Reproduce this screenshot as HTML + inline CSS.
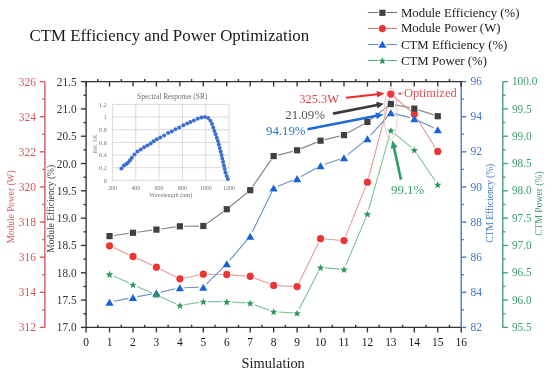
<!DOCTYPE html>
<html><head><meta charset="utf-8"><title>CTM Efficiency and Power Optimization</title>
<style>html,body{margin:0;padding:0;background:#fff;width:550px;height:373px;overflow:hidden}svg{display:block;filter:blur(0.3px)}</style></head>
<body><svg width="550" height="373" viewBox="0 0 550 373" font-family="'Liberation Serif', 'Times New Roman', serif">

<rect width="550" height="373" fill="#fff"/>
<text x="29.40" y="41.30" font-size="17.4" fill="#1a1a1a" text-anchor="start" textLength="279.8" lengthAdjust="spacingAndGlyphs">CTM Efficiency and Power Optimization</text>
<line x1="367.80" y1="12.50" x2="378.30" y2="12.50" stroke="#747474" stroke-width="1.1" />
<line x1="386.50" y1="12.50" x2="397.00" y2="12.50" stroke="#747474" stroke-width="1.1" />
<rect x="379.30" y="9.70" width="6.2" height="6.2" fill="#404040"/>
<text transform="translate(401.00,17.10) scale(1,1.03)" font-size="12.8" fill="#1a1a1a" text-anchor="start" >Module Efficiency (%)</text>
<line x1="367.80" y1="28.50" x2="378.30" y2="28.50" stroke="#e27272" stroke-width="1.1" />
<line x1="386.50" y1="28.50" x2="397.00" y2="28.50" stroke="#e27272" stroke-width="1.1" />
<circle cx="382.40" cy="28.60" r="3.4" fill="#f03434" stroke="#d82626" stroke-width="0.5"/>
<text transform="translate(401.00,32.40) scale(1,1.03)" font-size="12.8" fill="#1a1a1a" text-anchor="start" >Module Power (W)</text>
<line x1="367.80" y1="44.50" x2="378.30" y2="44.50" stroke="#6490d2" stroke-width="1.1" />
<line x1="386.50" y1="44.50" x2="397.00" y2="44.50" stroke="#6490d2" stroke-width="1.1" />
<polygon points="382.40,40.75 386.50,47.85 378.30,47.85" fill="#1862d8"/>
<text transform="translate(401.00,48.90) scale(1,1.03)" font-size="12.8" fill="#1a1a1a" text-anchor="start" >CTM Efficiency (%)</text>
<line x1="367.80" y1="60.50" x2="378.30" y2="60.50" stroke="#5eae84" stroke-width="1.1" />
<line x1="386.50" y1="60.50" x2="397.00" y2="60.50" stroke="#5eae84" stroke-width="1.1" />
<polygon points="382.40,57.00 383.39,59.64 386.20,59.76 384.00,61.52 384.75,64.24 382.40,62.68 380.05,64.24 380.80,61.52 378.60,59.76 381.41,59.64" fill="#2c9a5c"/>
<text transform="translate(401.00,64.90) scale(1,1.03)" font-size="12.8" fill="#1a1a1a" text-anchor="start" >CTM Power (%)</text>
<line x1="112.40" y1="180.30" x2="229.10" y2="180.30" stroke="#d6d6d6" stroke-width="0.9" />
<text transform="translate(106.80,182.50) scale(1,1.12)" font-size="6.2" fill="#737373" text-anchor="end" >0</text>
<line x1="112.40" y1="167.65" x2="229.10" y2="167.65" stroke="#d6d6d6" stroke-width="0.9" />
<text transform="translate(106.80,169.85) scale(1,1.12)" font-size="6.2" fill="#737373" text-anchor="end" >0.2</text>
<line x1="112.40" y1="155.00" x2="229.10" y2="155.00" stroke="#d6d6d6" stroke-width="0.9" />
<text transform="translate(106.80,157.20) scale(1,1.12)" font-size="6.2" fill="#737373" text-anchor="end" >0.4</text>
<line x1="112.40" y1="142.35" x2="229.10" y2="142.35" stroke="#d6d6d6" stroke-width="0.9" />
<text transform="translate(106.80,144.55) scale(1,1.12)" font-size="6.2" fill="#737373" text-anchor="end" >0.6</text>
<line x1="112.40" y1="129.70" x2="229.10" y2="129.70" stroke="#d6d6d6" stroke-width="0.9" />
<text transform="translate(106.80,131.90) scale(1,1.12)" font-size="6.2" fill="#737373" text-anchor="end" >0.8</text>
<line x1="112.40" y1="117.05" x2="229.10" y2="117.05" stroke="#d6d6d6" stroke-width="0.9" />
<text transform="translate(106.80,119.25) scale(1,1.12)" font-size="6.2" fill="#737373" text-anchor="end" >1</text>
<line x1="112.40" y1="104.40" x2="229.10" y2="104.40" stroke="#d6d6d6" stroke-width="0.9" />
<text transform="translate(106.80,106.60) scale(1,1.12)" font-size="6.2" fill="#737373" text-anchor="end" >1.2</text>
<line x1="112.40" y1="180.30" x2="112.40" y2="104.40" stroke="#d6d6d6" stroke-width="0.9" />
<text transform="translate(112.40,189.80) scale(1,1.12)" font-size="6.0" fill="#737373" text-anchor="middle" >200</text>
<line x1="135.74" y1="180.30" x2="135.74" y2="104.40" stroke="#d6d6d6" stroke-width="0.9" />
<text transform="translate(135.74,189.80) scale(1,1.12)" font-size="6.0" fill="#737373" text-anchor="middle" >400</text>
<line x1="159.08" y1="180.30" x2="159.08" y2="104.40" stroke="#d6d6d6" stroke-width="0.9" />
<text transform="translate(159.08,189.80) scale(1,1.12)" font-size="6.0" fill="#737373" text-anchor="middle" >600</text>
<line x1="182.42" y1="180.30" x2="182.42" y2="104.40" stroke="#d6d6d6" stroke-width="0.9" />
<text transform="translate(182.42,189.80) scale(1,1.12)" font-size="6.0" fill="#737373" text-anchor="middle" >800</text>
<line x1="205.76" y1="180.30" x2="205.76" y2="104.40" stroke="#d6d6d6" stroke-width="0.9" />
<text transform="translate(205.76,189.80) scale(1,1.12)" font-size="6.0" fill="#737373" text-anchor="middle" >1000</text>
<line x1="229.10" y1="180.30" x2="229.10" y2="104.40" stroke="#d6d6d6" stroke-width="0.9" />
<text transform="translate(229.10,189.80) scale(1,1.12)" font-size="6.0" fill="#737373" text-anchor="middle" >1200</text>
<text transform="translate(172.20,98.60) scale(1,1.12)" font-size="7.4" fill="#6e6e6e" text-anchor="middle" >Spectral Response (SR)</text>
<text transform="translate(170.70,196.90) scale(1,1.12)" font-size="6.2" fill="#737373" text-anchor="middle" >Wavelength (nm)</text>
<text x="0.00" y="0.00" font-size="6.0" fill="#808080" text-anchor="middle" transform="translate(97.0,144.2) rotate(-90)">Rel. SR</text>
<circle cx="121.40" cy="168.40" r="2.0" fill="#3a6fcf" />
<circle cx="123.90" cy="165.50" r="2.0" fill="#3a6fcf" />
<circle cx="126.30" cy="164.10" r="2.0" fill="#3a6fcf" />
<circle cx="128.10" cy="162.50" r="2.0" fill="#3a6fcf" />
<circle cx="130.00" cy="160.20" r="2.0" fill="#3a6fcf" />
<circle cx="131.90" cy="157.70" r="2.0" fill="#3a6fcf" />
<circle cx="134.50" cy="154.60" r="2.0" fill="#3a6fcf" />
<circle cx="137.50" cy="151.50" r="2.0" fill="#3a6fcf" />
<circle cx="140.80" cy="149.40" r="2.0" fill="#3a6fcf" />
<circle cx="144.10" cy="147.30" r="2.0" fill="#3a6fcf" />
<circle cx="147.40" cy="145.40" r="2.0" fill="#3a6fcf" />
<circle cx="150.70" cy="143.50" r="2.0" fill="#3a6fcf" />
<circle cx="153.60" cy="141.20" r="2.0" fill="#3a6fcf" />
<circle cx="156.80" cy="139.30" r="2.0" fill="#3a6fcf" />
<circle cx="160.30" cy="137.40" r="2.0" fill="#3a6fcf" />
<circle cx="164.10" cy="135.40" r="2.0" fill="#3a6fcf" />
<circle cx="168.10" cy="133.00" r="2.0" fill="#3a6fcf" />
<circle cx="171.80" cy="131.40" r="2.0" fill="#3a6fcf" />
<circle cx="175.50" cy="129.20" r="2.0" fill="#3a6fcf" />
<circle cx="179.30" cy="127.40" r="2.0" fill="#3a6fcf" />
<circle cx="183.30" cy="125.20" r="2.0" fill="#3a6fcf" />
<circle cx="187.10" cy="123.60" r="2.0" fill="#3a6fcf" />
<circle cx="190.40" cy="122.10" r="2.0" fill="#3a6fcf" />
<circle cx="193.90" cy="120.40" r="2.0" fill="#3a6fcf" />
<circle cx="197.70" cy="118.80" r="2.0" fill="#3a6fcf" />
<circle cx="201.40" cy="117.60" r="2.0" fill="#3a6fcf" />
<circle cx="204.90" cy="116.90" r="2.0" fill="#3a6fcf" />
<circle cx="208.17" cy="118.07" r="2.0" fill="#3a6fcf" />
<circle cx="210.41" cy="120.87" r="2.0" fill="#3a6fcf" />
<circle cx="212.05" cy="124.06" r="2.0" fill="#3a6fcf" />
<circle cx="213.20" cy="127.48" r="2.0" fill="#3a6fcf" />
<circle cx="214.38" cy="130.88" r="2.0" fill="#3a6fcf" />
<circle cx="215.61" cy="134.26" r="2.0" fill="#3a6fcf" />
<circle cx="216.78" cy="137.67" r="2.0" fill="#3a6fcf" />
<circle cx="217.85" cy="141.10" r="2.0" fill="#3a6fcf" />
<circle cx="218.82" cy="144.57" r="2.0" fill="#3a6fcf" />
<circle cx="219.72" cy="148.05" r="2.0" fill="#3a6fcf" />
<circle cx="220.67" cy="151.52" r="2.0" fill="#3a6fcf" />
<circle cx="221.53" cy="155.02" r="2.0" fill="#3a6fcf" />
<circle cx="222.32" cy="158.53" r="2.0" fill="#3a6fcf" />
<circle cx="223.13" cy="162.04" r="2.0" fill="#3a6fcf" />
<circle cx="223.91" cy="165.55" r="2.0" fill="#3a6fcf" />
<circle cx="224.70" cy="169.07" r="2.0" fill="#3a6fcf" />
<circle cx="225.52" cy="172.57" r="2.0" fill="#3a6fcf" />
<circle cx="226.63" cy="176.00" r="2.0" fill="#3a6fcf" />
<circle cx="227.80" cy="179.00" r="2.0" fill="#3a6fcf" />
<line x1="86.10" y1="81.60" x2="461.20" y2="81.60" stroke="#333333" stroke-width="1.35" />
<line x1="86.10" y1="327.40" x2="461.20" y2="327.40" stroke="#333333" stroke-width="1.35" />
<line x1="86.10" y1="81.10" x2="86.10" y2="327.90" stroke="#333333" stroke-width="1.35" />
<line x1="86.10" y1="327.40" x2="86.10" y2="332.40" stroke="#333333" stroke-width="1.35" />
<line x1="86.10" y1="81.60" x2="86.10" y2="86.60" stroke="#333333" stroke-width="1.35" />
<text transform="translate(86.10,345.80) scale(1,1.12)" font-size="11.5" fill="#1a1a1a" text-anchor="middle" >0</text>
<line x1="97.82" y1="327.40" x2="97.82" y2="324.80" stroke="#333333" stroke-width="1.35" />
<line x1="97.82" y1="81.60" x2="97.82" y2="79.00" stroke="#333333" stroke-width="1.35" />
<line x1="109.54" y1="327.40" x2="109.54" y2="332.40" stroke="#333333" stroke-width="1.35" />
<line x1="109.54" y1="81.60" x2="109.54" y2="86.60" stroke="#333333" stroke-width="1.35" />
<text transform="translate(109.54,345.80) scale(1,1.12)" font-size="11.5" fill="#1a1a1a" text-anchor="middle" >1</text>
<line x1="121.27" y1="327.40" x2="121.27" y2="324.80" stroke="#333333" stroke-width="1.35" />
<line x1="121.27" y1="81.60" x2="121.27" y2="79.00" stroke="#333333" stroke-width="1.35" />
<line x1="132.99" y1="327.40" x2="132.99" y2="332.40" stroke="#333333" stroke-width="1.35" />
<line x1="132.99" y1="81.60" x2="132.99" y2="86.60" stroke="#333333" stroke-width="1.35" />
<text transform="translate(132.99,345.80) scale(1,1.12)" font-size="11.5" fill="#1a1a1a" text-anchor="middle" >2</text>
<line x1="144.71" y1="327.40" x2="144.71" y2="324.80" stroke="#333333" stroke-width="1.35" />
<line x1="144.71" y1="81.60" x2="144.71" y2="79.00" stroke="#333333" stroke-width="1.35" />
<line x1="156.43" y1="327.40" x2="156.43" y2="332.40" stroke="#333333" stroke-width="1.35" />
<line x1="156.43" y1="81.60" x2="156.43" y2="86.60" stroke="#333333" stroke-width="1.35" />
<text transform="translate(156.43,345.80) scale(1,1.12)" font-size="11.5" fill="#1a1a1a" text-anchor="middle" >3</text>
<line x1="168.15" y1="327.40" x2="168.15" y2="324.80" stroke="#333333" stroke-width="1.35" />
<line x1="168.15" y1="81.60" x2="168.15" y2="79.00" stroke="#333333" stroke-width="1.35" />
<line x1="179.88" y1="327.40" x2="179.88" y2="332.40" stroke="#333333" stroke-width="1.35" />
<line x1="179.88" y1="81.60" x2="179.88" y2="86.60" stroke="#333333" stroke-width="1.35" />
<text transform="translate(179.88,345.80) scale(1,1.12)" font-size="11.5" fill="#1a1a1a" text-anchor="middle" >4</text>
<line x1="191.60" y1="327.40" x2="191.60" y2="324.80" stroke="#333333" stroke-width="1.35" />
<line x1="191.60" y1="81.60" x2="191.60" y2="79.00" stroke="#333333" stroke-width="1.35" />
<line x1="203.32" y1="327.40" x2="203.32" y2="332.40" stroke="#333333" stroke-width="1.35" />
<line x1="203.32" y1="81.60" x2="203.32" y2="86.60" stroke="#333333" stroke-width="1.35" />
<text transform="translate(203.32,345.80) scale(1,1.12)" font-size="11.5" fill="#1a1a1a" text-anchor="middle" >5</text>
<line x1="215.04" y1="327.40" x2="215.04" y2="324.80" stroke="#333333" stroke-width="1.35" />
<line x1="215.04" y1="81.60" x2="215.04" y2="79.00" stroke="#333333" stroke-width="1.35" />
<line x1="226.76" y1="327.40" x2="226.76" y2="332.40" stroke="#333333" stroke-width="1.35" />
<line x1="226.76" y1="81.60" x2="226.76" y2="86.60" stroke="#333333" stroke-width="1.35" />
<text transform="translate(226.76,345.80) scale(1,1.12)" font-size="11.5" fill="#1a1a1a" text-anchor="middle" >6</text>
<line x1="238.48" y1="327.40" x2="238.48" y2="324.80" stroke="#333333" stroke-width="1.35" />
<line x1="238.48" y1="81.60" x2="238.48" y2="79.00" stroke="#333333" stroke-width="1.35" />
<line x1="250.21" y1="327.40" x2="250.21" y2="332.40" stroke="#333333" stroke-width="1.35" />
<line x1="250.21" y1="81.60" x2="250.21" y2="86.60" stroke="#333333" stroke-width="1.35" />
<text transform="translate(250.21,345.80) scale(1,1.12)" font-size="11.5" fill="#1a1a1a" text-anchor="middle" >7</text>
<line x1="261.93" y1="327.40" x2="261.93" y2="324.80" stroke="#333333" stroke-width="1.35" />
<line x1="261.93" y1="81.60" x2="261.93" y2="79.00" stroke="#333333" stroke-width="1.35" />
<line x1="273.65" y1="327.40" x2="273.65" y2="332.40" stroke="#333333" stroke-width="1.35" />
<line x1="273.65" y1="81.60" x2="273.65" y2="86.60" stroke="#333333" stroke-width="1.35" />
<text transform="translate(273.65,345.80) scale(1,1.12)" font-size="11.5" fill="#1a1a1a" text-anchor="middle" >8</text>
<line x1="285.37" y1="327.40" x2="285.37" y2="324.80" stroke="#333333" stroke-width="1.35" />
<line x1="285.37" y1="81.60" x2="285.37" y2="79.00" stroke="#333333" stroke-width="1.35" />
<line x1="297.09" y1="327.40" x2="297.09" y2="332.40" stroke="#333333" stroke-width="1.35" />
<line x1="297.09" y1="81.60" x2="297.09" y2="86.60" stroke="#333333" stroke-width="1.35" />
<text transform="translate(297.09,345.80) scale(1,1.12)" font-size="11.5" fill="#1a1a1a" text-anchor="middle" >9</text>
<line x1="308.82" y1="327.40" x2="308.82" y2="324.80" stroke="#333333" stroke-width="1.35" />
<line x1="308.82" y1="81.60" x2="308.82" y2="79.00" stroke="#333333" stroke-width="1.35" />
<line x1="320.54" y1="327.40" x2="320.54" y2="332.40" stroke="#333333" stroke-width="1.35" />
<line x1="320.54" y1="81.60" x2="320.54" y2="86.60" stroke="#333333" stroke-width="1.35" />
<text transform="translate(320.54,345.80) scale(1,1.12)" font-size="11.5" fill="#1a1a1a" text-anchor="middle" >10</text>
<line x1="332.26" y1="327.40" x2="332.26" y2="324.80" stroke="#333333" stroke-width="1.35" />
<line x1="332.26" y1="81.60" x2="332.26" y2="79.00" stroke="#333333" stroke-width="1.35" />
<line x1="343.98" y1="327.40" x2="343.98" y2="332.40" stroke="#333333" stroke-width="1.35" />
<line x1="343.98" y1="81.60" x2="343.98" y2="86.60" stroke="#333333" stroke-width="1.35" />
<text transform="translate(343.98,345.80) scale(1,1.12)" font-size="11.5" fill="#1a1a1a" text-anchor="middle" >11</text>
<line x1="355.70" y1="327.40" x2="355.70" y2="324.80" stroke="#333333" stroke-width="1.35" />
<line x1="355.70" y1="81.60" x2="355.70" y2="79.00" stroke="#333333" stroke-width="1.35" />
<line x1="367.43" y1="327.40" x2="367.43" y2="332.40" stroke="#333333" stroke-width="1.35" />
<line x1="367.43" y1="81.60" x2="367.43" y2="86.60" stroke="#333333" stroke-width="1.35" />
<text transform="translate(367.43,345.80) scale(1,1.12)" font-size="11.5" fill="#1a1a1a" text-anchor="middle" >12</text>
<line x1="379.15" y1="327.40" x2="379.15" y2="324.80" stroke="#333333" stroke-width="1.35" />
<line x1="379.15" y1="81.60" x2="379.15" y2="79.00" stroke="#333333" stroke-width="1.35" />
<line x1="390.87" y1="327.40" x2="390.87" y2="332.40" stroke="#333333" stroke-width="1.35" />
<line x1="390.87" y1="81.60" x2="390.87" y2="86.60" stroke="#333333" stroke-width="1.35" />
<text transform="translate(390.87,345.80) scale(1,1.12)" font-size="11.5" fill="#1a1a1a" text-anchor="middle" >13</text>
<line x1="402.59" y1="327.40" x2="402.59" y2="324.80" stroke="#333333" stroke-width="1.35" />
<line x1="402.59" y1="81.60" x2="402.59" y2="79.00" stroke="#333333" stroke-width="1.35" />
<line x1="414.31" y1="327.40" x2="414.31" y2="332.40" stroke="#333333" stroke-width="1.35" />
<line x1="414.31" y1="81.60" x2="414.31" y2="86.60" stroke="#333333" stroke-width="1.35" />
<text transform="translate(414.31,345.80) scale(1,1.12)" font-size="11.5" fill="#1a1a1a" text-anchor="middle" >14</text>
<line x1="426.03" y1="327.40" x2="426.03" y2="324.80" stroke="#333333" stroke-width="1.35" />
<line x1="426.03" y1="81.60" x2="426.03" y2="79.00" stroke="#333333" stroke-width="1.35" />
<line x1="437.76" y1="327.40" x2="437.76" y2="332.40" stroke="#333333" stroke-width="1.35" />
<line x1="437.76" y1="81.60" x2="437.76" y2="86.60" stroke="#333333" stroke-width="1.35" />
<text transform="translate(437.76,345.80) scale(1,1.12)" font-size="11.5" fill="#1a1a1a" text-anchor="middle" >15</text>
<line x1="449.48" y1="327.40" x2="449.48" y2="324.80" stroke="#333333" stroke-width="1.35" />
<line x1="449.48" y1="81.60" x2="449.48" y2="79.00" stroke="#333333" stroke-width="1.35" />
<line x1="461.20" y1="327.40" x2="461.20" y2="332.40" stroke="#333333" stroke-width="1.35" />
<line x1="461.20" y1="81.60" x2="461.20" y2="86.60" stroke="#333333" stroke-width="1.35" />
<text transform="translate(461.20,345.80) scale(1,1.12)" font-size="11.5" fill="#1a1a1a" text-anchor="middle" >16</text>
<text transform="translate(273.20,368.40) scale(1,1.04)" font-size="14.4" fill="#1a1a1a" text-anchor="middle" >Simulation</text>
<line x1="80.90" y1="327.40" x2="86.10" y2="327.40" stroke="#333333" stroke-width="1.35" />
<text transform="translate(76.60,331.40) scale(1,1.12)" font-size="11.3" fill="#333333" text-anchor="end" >17.0</text>
<line x1="83.50" y1="313.74" x2="86.10" y2="313.74" stroke="#333333" stroke-width="1.35" />
<line x1="80.90" y1="300.09" x2="86.10" y2="300.09" stroke="#333333" stroke-width="1.35" />
<text transform="translate(76.60,304.09) scale(1,1.12)" font-size="11.3" fill="#333333" text-anchor="end" >17.5</text>
<line x1="83.50" y1="286.43" x2="86.10" y2="286.43" stroke="#333333" stroke-width="1.35" />
<line x1="80.90" y1="272.78" x2="86.10" y2="272.78" stroke="#333333" stroke-width="1.35" />
<text transform="translate(76.60,276.78) scale(1,1.12)" font-size="11.3" fill="#333333" text-anchor="end" >18.0</text>
<line x1="83.50" y1="259.12" x2="86.10" y2="259.12" stroke="#333333" stroke-width="1.35" />
<line x1="80.90" y1="245.47" x2="86.10" y2="245.47" stroke="#333333" stroke-width="1.35" />
<text transform="translate(76.60,249.47) scale(1,1.12)" font-size="11.3" fill="#333333" text-anchor="end" >18.5</text>
<line x1="83.50" y1="231.81" x2="86.10" y2="231.81" stroke="#333333" stroke-width="1.35" />
<line x1="80.90" y1="218.16" x2="86.10" y2="218.16" stroke="#333333" stroke-width="1.35" />
<text transform="translate(76.60,222.16) scale(1,1.12)" font-size="11.3" fill="#333333" text-anchor="end" >19.0</text>
<line x1="83.50" y1="204.50" x2="86.10" y2="204.50" stroke="#333333" stroke-width="1.35" />
<line x1="80.90" y1="190.84" x2="86.10" y2="190.84" stroke="#333333" stroke-width="1.35" />
<text transform="translate(76.60,194.84) scale(1,1.12)" font-size="11.3" fill="#333333" text-anchor="end" >19.5</text>
<line x1="83.50" y1="177.19" x2="86.10" y2="177.19" stroke="#333333" stroke-width="1.35" />
<line x1="80.90" y1="163.53" x2="86.10" y2="163.53" stroke="#333333" stroke-width="1.35" />
<text transform="translate(76.60,167.53) scale(1,1.12)" font-size="11.3" fill="#333333" text-anchor="end" >20.0</text>
<line x1="83.50" y1="149.88" x2="86.10" y2="149.88" stroke="#333333" stroke-width="1.35" />
<line x1="80.90" y1="136.22" x2="86.10" y2="136.22" stroke="#333333" stroke-width="1.35" />
<text transform="translate(76.60,140.22) scale(1,1.12)" font-size="11.3" fill="#333333" text-anchor="end" >20.5</text>
<line x1="83.50" y1="122.57" x2="86.10" y2="122.57" stroke="#333333" stroke-width="1.35" />
<line x1="80.90" y1="108.91" x2="86.10" y2="108.91" stroke="#333333" stroke-width="1.35" />
<text transform="translate(76.60,112.91) scale(1,1.12)" font-size="11.3" fill="#333333" text-anchor="end" >21.0</text>
<line x1="83.50" y1="95.26" x2="86.10" y2="95.26" stroke="#333333" stroke-width="1.35" />
<line x1="80.90" y1="81.60" x2="86.10" y2="81.60" stroke="#333333" stroke-width="1.35" />
<text transform="translate(76.60,85.60) scale(1,1.12)" font-size="11.3" fill="#333333" text-anchor="end" >21.5</text>
<text x="0.00" y="0.00" font-size="9.5" fill="#404040" text-anchor="middle" transform="translate(54.4,208.8) rotate(-90)">Module Efficiency (%)</text>
<line x1="44.90" y1="81.60" x2="44.90" y2="327.40" stroke="#d4575c" stroke-width="1.35" />
<line x1="39.80" y1="327.40" x2="44.90" y2="327.40" stroke="#d4575c" stroke-width="1.35" />
<text transform="translate(36.00,331.40) scale(1,1.12)" font-size="11.5" fill="#d4575c" text-anchor="end" >312</text>
<line x1="42.30" y1="309.84" x2="44.90" y2="309.84" stroke="#d4575c" stroke-width="1.35" />
<line x1="39.80" y1="292.29" x2="44.90" y2="292.29" stroke="#d4575c" stroke-width="1.35" />
<text transform="translate(36.00,296.29) scale(1,1.12)" font-size="11.5" fill="#d4575c" text-anchor="end" >314</text>
<line x1="42.30" y1="274.73" x2="44.90" y2="274.73" stroke="#d4575c" stroke-width="1.35" />
<line x1="39.80" y1="257.17" x2="44.90" y2="257.17" stroke="#d4575c" stroke-width="1.35" />
<text transform="translate(36.00,261.17) scale(1,1.12)" font-size="11.5" fill="#d4575c" text-anchor="end" >316</text>
<line x1="42.30" y1="239.61" x2="44.90" y2="239.61" stroke="#d4575c" stroke-width="1.35" />
<line x1="39.80" y1="222.06" x2="44.90" y2="222.06" stroke="#d4575c" stroke-width="1.35" />
<text transform="translate(36.00,226.06) scale(1,1.12)" font-size="11.5" fill="#d4575c" text-anchor="end" >318</text>
<line x1="42.30" y1="204.50" x2="44.90" y2="204.50" stroke="#d4575c" stroke-width="1.35" />
<line x1="39.80" y1="186.94" x2="44.90" y2="186.94" stroke="#d4575c" stroke-width="1.35" />
<text transform="translate(36.00,190.94) scale(1,1.12)" font-size="11.5" fill="#d4575c" text-anchor="end" >320</text>
<line x1="42.30" y1="169.39" x2="44.90" y2="169.39" stroke="#d4575c" stroke-width="1.35" />
<line x1="39.80" y1="151.83" x2="44.90" y2="151.83" stroke="#d4575c" stroke-width="1.35" />
<text transform="translate(36.00,155.83) scale(1,1.12)" font-size="11.5" fill="#d4575c" text-anchor="end" >322</text>
<line x1="42.30" y1="134.27" x2="44.90" y2="134.27" stroke="#d4575c" stroke-width="1.35" />
<line x1="39.80" y1="116.71" x2="44.90" y2="116.71" stroke="#d4575c" stroke-width="1.35" />
<text transform="translate(36.00,120.71) scale(1,1.12)" font-size="11.5" fill="#d4575c" text-anchor="end" >324</text>
<line x1="42.30" y1="99.16" x2="44.90" y2="99.16" stroke="#d4575c" stroke-width="1.35" />
<line x1="39.80" y1="81.60" x2="44.90" y2="81.60" stroke="#d4575c" stroke-width="1.35" />
<text transform="translate(36.00,85.60) scale(1,1.12)" font-size="11.5" fill="#d4575c" text-anchor="end" >326</text>
<text x="0.00" y="0.00" font-size="9.4" fill="#d4575c" text-anchor="middle" transform="translate(14.0,206.9) rotate(-90)">Module Power (W)</text>
<line x1="461.20" y1="327.40" x2="466.30" y2="327.40" stroke="#4176c4" stroke-width="1.35" />
<text transform="translate(470.60,331.00) scale(1,1.12)" font-size="11.5" fill="#4176c4" text-anchor="start" >82</text>
<line x1="461.20" y1="309.84" x2="463.80" y2="309.84" stroke="#4176c4" stroke-width="1.35" />
<line x1="461.20" y1="292.29" x2="466.30" y2="292.29" stroke="#4176c4" stroke-width="1.35" />
<text transform="translate(470.60,295.89) scale(1,1.12)" font-size="11.5" fill="#4176c4" text-anchor="start" >84</text>
<line x1="461.20" y1="274.73" x2="463.80" y2="274.73" stroke="#4176c4" stroke-width="1.35" />
<line x1="461.20" y1="257.17" x2="466.30" y2="257.17" stroke="#4176c4" stroke-width="1.35" />
<text transform="translate(470.60,260.77) scale(1,1.12)" font-size="11.5" fill="#4176c4" text-anchor="start" >86</text>
<line x1="461.20" y1="239.61" x2="463.80" y2="239.61" stroke="#4176c4" stroke-width="1.35" />
<line x1="461.20" y1="222.06" x2="466.30" y2="222.06" stroke="#4176c4" stroke-width="1.35" />
<text transform="translate(470.60,225.66) scale(1,1.12)" font-size="11.5" fill="#4176c4" text-anchor="start" >88</text>
<line x1="461.20" y1="204.50" x2="463.80" y2="204.50" stroke="#4176c4" stroke-width="1.35" />
<line x1="461.20" y1="186.94" x2="466.30" y2="186.94" stroke="#4176c4" stroke-width="1.35" />
<text transform="translate(470.60,190.54) scale(1,1.12)" font-size="11.5" fill="#4176c4" text-anchor="start" >90</text>
<line x1="461.20" y1="169.39" x2="463.80" y2="169.39" stroke="#4176c4" stroke-width="1.35" />
<line x1="461.20" y1="151.83" x2="466.30" y2="151.83" stroke="#4176c4" stroke-width="1.35" />
<text transform="translate(470.60,155.43) scale(1,1.12)" font-size="11.5" fill="#4176c4" text-anchor="start" >92</text>
<line x1="461.20" y1="134.27" x2="463.80" y2="134.27" stroke="#4176c4" stroke-width="1.35" />
<line x1="461.20" y1="116.71" x2="466.30" y2="116.71" stroke="#4176c4" stroke-width="1.35" />
<text transform="translate(470.60,120.31) scale(1,1.12)" font-size="11.5" fill="#4176c4" text-anchor="start" >94</text>
<line x1="461.20" y1="99.16" x2="463.80" y2="99.16" stroke="#4176c4" stroke-width="1.35" />
<line x1="461.20" y1="81.60" x2="466.30" y2="81.60" stroke="#4176c4" stroke-width="1.35" />
<text transform="translate(470.60,85.20) scale(1,1.12)" font-size="11.5" fill="#4176c4" text-anchor="start" >96</text>
<line x1="461.20" y1="87.10" x2="461.20" y2="327.40" stroke="#4176c4" stroke-width="1.35" />
<line x1="461.20" y1="81.10" x2="461.20" y2="87.10" stroke="#333333" stroke-width="1.35" />
<text x="0.00" y="0.00" font-size="9.5" fill="#4176c4" text-anchor="middle" transform="translate(493.0,203.2) rotate(-90)">CTM Efficiency (%)</text>
<line x1="502.80" y1="81.60" x2="502.80" y2="327.40" stroke="#3d9e6e" stroke-width="1.35" />
<line x1="502.80" y1="327.40" x2="507.80" y2="327.40" stroke="#3d9e6e" stroke-width="1.35" />
<text transform="translate(511.90,331.00) scale(1,1.12)" font-size="11.3" fill="#3d9e6e" text-anchor="start" >95.5</text>
<line x1="502.80" y1="313.74" x2="505.40" y2="313.74" stroke="#3d9e6e" stroke-width="1.35" />
<line x1="502.80" y1="300.09" x2="507.80" y2="300.09" stroke="#3d9e6e" stroke-width="1.35" />
<text transform="translate(511.90,303.69) scale(1,1.12)" font-size="11.3" fill="#3d9e6e" text-anchor="start" >96.0</text>
<line x1="502.80" y1="286.43" x2="505.40" y2="286.43" stroke="#3d9e6e" stroke-width="1.35" />
<line x1="502.80" y1="272.78" x2="507.80" y2="272.78" stroke="#3d9e6e" stroke-width="1.35" />
<text transform="translate(511.90,276.38) scale(1,1.12)" font-size="11.3" fill="#3d9e6e" text-anchor="start" >96.5</text>
<line x1="502.80" y1="259.12" x2="505.40" y2="259.12" stroke="#3d9e6e" stroke-width="1.35" />
<line x1="502.80" y1="245.47" x2="507.80" y2="245.47" stroke="#3d9e6e" stroke-width="1.35" />
<text transform="translate(511.90,249.07) scale(1,1.12)" font-size="11.3" fill="#3d9e6e" text-anchor="start" >97.0</text>
<line x1="502.80" y1="231.81" x2="505.40" y2="231.81" stroke="#3d9e6e" stroke-width="1.35" />
<line x1="502.80" y1="218.16" x2="507.80" y2="218.16" stroke="#3d9e6e" stroke-width="1.35" />
<text transform="translate(511.90,221.76) scale(1,1.12)" font-size="11.3" fill="#3d9e6e" text-anchor="start" >97.5</text>
<line x1="502.80" y1="204.50" x2="505.40" y2="204.50" stroke="#3d9e6e" stroke-width="1.35" />
<line x1="502.80" y1="190.84" x2="507.80" y2="190.84" stroke="#3d9e6e" stroke-width="1.35" />
<text transform="translate(511.90,194.44) scale(1,1.12)" font-size="11.3" fill="#3d9e6e" text-anchor="start" >98.0</text>
<line x1="502.80" y1="177.19" x2="505.40" y2="177.19" stroke="#3d9e6e" stroke-width="1.35" />
<line x1="502.80" y1="163.53" x2="507.80" y2="163.53" stroke="#3d9e6e" stroke-width="1.35" />
<text transform="translate(511.90,167.13) scale(1,1.12)" font-size="11.3" fill="#3d9e6e" text-anchor="start" >98.5</text>
<line x1="502.80" y1="149.88" x2="505.40" y2="149.88" stroke="#3d9e6e" stroke-width="1.35" />
<line x1="502.80" y1="136.22" x2="507.80" y2="136.22" stroke="#3d9e6e" stroke-width="1.35" />
<text transform="translate(511.90,139.82) scale(1,1.12)" font-size="11.3" fill="#3d9e6e" text-anchor="start" >99.0</text>
<line x1="502.80" y1="122.57" x2="505.40" y2="122.57" stroke="#3d9e6e" stroke-width="1.35" />
<line x1="502.80" y1="108.91" x2="507.80" y2="108.91" stroke="#3d9e6e" stroke-width="1.35" />
<text transform="translate(511.90,112.51) scale(1,1.12)" font-size="11.3" fill="#3d9e6e" text-anchor="start" >99.5</text>
<line x1="502.80" y1="95.26" x2="505.40" y2="95.26" stroke="#3d9e6e" stroke-width="1.35" />
<line x1="502.80" y1="81.60" x2="507.80" y2="81.60" stroke="#3d9e6e" stroke-width="1.35" />
<text transform="translate(511.90,85.20) scale(1,1.12)" font-size="11.3" fill="#3d9e6e" text-anchor="start" >100.0</text>
<text x="0.00" y="0.00" font-size="9.6" fill="#3d9e6e" text-anchor="middle" transform="translate(542.4,203.6) rotate(-90)">CTM Power (%)</text>
<line x1="113.64" y1="247.67" x2="128.89" y2="254.63" stroke="#e29a9a" stroke-width="1.1" />
<line x1="137.08" y1="258.37" x2="152.34" y2="265.33" stroke="#e29a9a" stroke-width="1.1" />
<line x1="160.46" y1="269.20" x2="175.84" y2="276.80" stroke="#e29a9a" stroke-width="1.1" />
<line x1="184.29" y1="277.93" x2="198.90" y2="275.07" stroke="#e29a9a" stroke-width="1.1" />
<line x1="207.82" y1="274.26" x2="222.26" y2="274.44" stroke="#e29a9a" stroke-width="1.1" />
<line x1="231.25" y1="274.84" x2="245.72" y2="275.96" stroke="#e29a9a" stroke-width="1.1" />
<line x1="254.40" y1="277.94" x2="269.46" y2="283.86" stroke="#e29a9a" stroke-width="1.1" />
<line x1="278.15" y1="285.71" x2="292.60" y2="286.39" stroke="#e29a9a" stroke-width="1.1" />
<line x1="299.07" y1="282.56" x2="318.56" y2="242.74" stroke="#e29a9a" stroke-width="1.1" />
<line x1="325.02" y1="239.06" x2="339.50" y2="240.24" stroke="#e29a9a" stroke-width="1.1" />
<line x1="345.66" y1="236.42" x2="365.75" y2="186.38" stroke="#e29a9a" stroke-width="1.1" />
<line x1="368.58" y1="177.85" x2="389.71" y2="98.45" stroke="#e29a9a" stroke-width="1.1" />
<line x1="394.29" y1="97.03" x2="410.90" y2="111.27" stroke="#e29a9a" stroke-width="1.1" />
<line x1="416.71" y1="118.01" x2="435.36" y2="147.69" stroke="#e29a9a" stroke-width="1.1" />
<circle cx="109.54" cy="245.80" r="3.4" fill="#f03434" stroke="#d82626" stroke-width="0.5"/>
<circle cx="132.99" cy="256.50" r="3.4" fill="#f03434" stroke="#d82626" stroke-width="0.5"/>
<circle cx="156.43" cy="267.20" r="3.4" fill="#f03434" stroke="#d82626" stroke-width="0.5"/>
<circle cx="179.88" cy="278.80" r="3.4" fill="#f03434" stroke="#d82626" stroke-width="0.5"/>
<circle cx="203.32" cy="274.20" r="3.4" fill="#f03434" stroke="#d82626" stroke-width="0.5"/>
<circle cx="226.76" cy="274.50" r="3.4" fill="#f03434" stroke="#d82626" stroke-width="0.5"/>
<circle cx="250.21" cy="276.30" r="3.4" fill="#f03434" stroke="#d82626" stroke-width="0.5"/>
<circle cx="273.65" cy="285.50" r="3.4" fill="#f03434" stroke="#d82626" stroke-width="0.5"/>
<circle cx="297.09" cy="286.60" r="3.4" fill="#f03434" stroke="#d82626" stroke-width="0.5"/>
<circle cx="320.54" cy="238.70" r="3.4" fill="#f03434" stroke="#d82626" stroke-width="0.5"/>
<circle cx="343.98" cy="240.60" r="3.4" fill="#f03434" stroke="#d82626" stroke-width="0.5"/>
<circle cx="367.43" cy="182.20" r="3.4" fill="#f03434" stroke="#d82626" stroke-width="0.5"/>
<circle cx="390.87" cy="94.10" r="3.4" fill="#f03434" stroke="#d82626" stroke-width="0.5"/>
<circle cx="414.31" cy="114.20" r="3.4" fill="#f03434" stroke="#d82626" stroke-width="0.5"/>
<circle cx="437.76" cy="151.50" r="3.4" fill="#f03434" stroke="#d82626" stroke-width="0.5"/>
<line x1="113.80" y1="235.50" x2="128.73" y2="233.40" stroke="#8a8a8a" stroke-width="1.2" />
<line x1="137.25" y1="232.22" x2="152.17" y2="230.18" stroke="#8a8a8a" stroke-width="1.2" />
<line x1="160.69" y1="229.00" x2="175.62" y2="226.90" stroke="#8a8a8a" stroke-width="1.2" />
<line x1="184.17" y1="226.24" x2="199.02" y2="226.06" stroke="#8a8a8a" stroke-width="1.2" />
<line x1="206.81" y1="223.50" x2="223.27" y2="211.70" stroke="#8a8a8a" stroke-width="1.2" />
<line x1="230.10" y1="206.49" x2="246.87" y2="192.91" stroke="#8a8a8a" stroke-width="1.2" />
<line x1="252.64" y1="186.66" x2="271.21" y2="159.64" stroke="#8a8a8a" stroke-width="1.2" />
<line x1="277.82" y1="155.07" x2="292.92" y2="151.33" stroke="#8a8a8a" stroke-width="1.2" />
<line x1="301.07" y1="148.67" x2="316.56" y2="142.33" stroke="#8a8a8a" stroke-width="1.2" />
<line x1="324.72" y1="139.70" x2="339.80" y2="136.10" stroke="#8a8a8a" stroke-width="1.2" />
<line x1="347.73" y1="132.99" x2="363.68" y2="124.01" stroke="#8a8a8a" stroke-width="1.2" />
<line x1="370.84" y1="119.29" x2="387.45" y2="106.61" stroke="#8a8a8a" stroke-width="1.2" />
<line x1="395.09" y1="104.83" x2="410.09" y2="107.77" stroke="#8a8a8a" stroke-width="1.2" />
<line x1="418.40" y1="109.93" x2="433.67" y2="114.87" stroke="#8a8a8a" stroke-width="1.2" />
<rect x="106.44" y="233.00" width="6.2" height="6.2" fill="#404040"/>
<rect x="129.89" y="229.70" width="6.2" height="6.2" fill="#404040"/>
<rect x="153.33" y="226.50" width="6.2" height="6.2" fill="#404040"/>
<rect x="176.78" y="223.20" width="6.2" height="6.2" fill="#404040"/>
<rect x="200.22" y="222.90" width="6.2" height="6.2" fill="#404040"/>
<rect x="223.66" y="206.10" width="6.2" height="6.2" fill="#404040"/>
<rect x="247.11" y="187.10" width="6.2" height="6.2" fill="#404040"/>
<rect x="270.55" y="153.00" width="6.2" height="6.2" fill="#404040"/>
<rect x="293.99" y="147.20" width="6.2" height="6.2" fill="#404040"/>
<rect x="317.44" y="137.60" width="6.2" height="6.2" fill="#404040"/>
<rect x="340.88" y="132.00" width="6.2" height="6.2" fill="#404040"/>
<rect x="364.33" y="118.80" width="6.2" height="6.2" fill="#404040"/>
<rect x="387.77" y="100.90" width="6.2" height="6.2" fill="#404040"/>
<rect x="411.21" y="105.50" width="6.2" height="6.2" fill="#404040"/>
<rect x="434.66" y="113.10" width="6.2" height="6.2" fill="#404040"/>
<line x1="114.05" y1="301.30" x2="128.48" y2="298.40" stroke="#6690c8" stroke-width="1.1" />
<line x1="137.51" y1="296.65" x2="151.91" y2="293.95" stroke="#6690c8" stroke-width="1.1" />
<line x1="160.92" y1="292.09" x2="175.39" y2="288.81" stroke="#6690c8" stroke-width="1.1" />
<line x1="184.47" y1="287.68" x2="198.72" y2="287.32" stroke="#6690c8" stroke-width="1.1" />
<line x1="206.57" y1="283.95" x2="223.51" y2="267.05" stroke="#6690c8" stroke-width="1.1" />
<line x1="229.74" y1="260.29" x2="247.23" y2="239.71" stroke="#6690c8" stroke-width="1.1" />
<line x1="252.22" y1="232.06" x2="271.64" y2="192.14" stroke="#6690c8" stroke-width="1.1" />
<line x1="277.92" y1="186.29" x2="292.82" y2="180.31" stroke="#6690c8" stroke-width="1.1" />
<line x1="301.13" y1="176.40" x2="316.50" y2="168.00" stroke="#6690c8" stroke-width="1.1" />
<line x1="324.89" y1="164.31" x2="339.63" y2="159.29" stroke="#6690c8" stroke-width="1.1" />
<line x1="347.55" y1="154.89" x2="363.86" y2="141.61" stroke="#6690c8" stroke-width="1.1" />
<line x1="370.51" y1="135.28" x2="387.79" y2="116.12" stroke="#6690c8" stroke-width="1.1" />
<line x1="395.32" y1="113.86" x2="409.86" y2="117.64" stroke="#6690c8" stroke-width="1.1" />
<line x1="418.48" y1="120.75" x2="433.59" y2="127.85" stroke="#6690c8" stroke-width="1.1" />
<polygon points="109.54,298.65 113.64,305.75 105.44,305.75" fill="#1862d8"/>
<polygon points="132.99,293.95 137.09,301.05 128.89,301.05" fill="#1862d8"/>
<polygon points="156.43,289.55 160.53,296.65 152.33,296.65" fill="#1862d8"/>
<polygon points="179.88,284.25 183.97,291.35 175.78,291.35" fill="#1862d8"/>
<polygon points="203.32,283.65 207.42,290.75 199.22,290.75" fill="#1862d8"/>
<polygon points="226.76,260.25 230.86,267.35 222.66,267.35" fill="#1862d8"/>
<polygon points="250.21,232.65 254.31,239.75 246.11,239.75" fill="#1862d8"/>
<polygon points="273.65,184.45 277.75,191.55 269.55,191.55" fill="#1862d8"/>
<polygon points="297.09,175.05 301.19,182.15 292.99,182.15" fill="#1862d8"/>
<polygon points="320.54,162.25 324.64,169.35 316.44,169.35" fill="#1862d8"/>
<polygon points="343.98,154.25 348.08,161.35 339.88,161.35" fill="#1862d8"/>
<polygon points="367.43,135.15 371.53,142.25 363.33,142.25" fill="#1862d8"/>
<polygon points="390.87,109.15 394.97,116.25 386.77,116.25" fill="#1862d8"/>
<polygon points="414.31,115.25 418.41,122.35 410.21,122.35" fill="#1862d8"/>
<polygon points="437.76,126.25 441.86,133.35 433.66,133.35" fill="#1862d8"/>
<line x1="113.66" y1="276.11" x2="128.87" y2="282.79" stroke="#7cc29c" stroke-width="1.1" />
<line x1="137.10" y1="286.42" x2="152.32" y2="293.18" stroke="#7cc29c" stroke-width="1.1" />
<line x1="160.54" y1="296.84" x2="175.77" y2="303.66" stroke="#7cc29c" stroke-width="1.1" />
<line x1="184.31" y1="304.76" x2="198.88" y2="302.34" stroke="#7cc29c" stroke-width="1.1" />
<line x1="207.82" y1="301.64" x2="222.26" y2="301.76" stroke="#7cc29c" stroke-width="1.1" />
<line x1="231.26" y1="302.05" x2="245.71" y2="302.85" stroke="#7cc29c" stroke-width="1.1" />
<line x1="254.43" y1="304.65" x2="269.43" y2="310.15" stroke="#7cc29c" stroke-width="1.1" />
<line x1="278.14" y1="311.97" x2="292.60" y2="312.83" stroke="#7cc29c" stroke-width="1.1" />
<line x1="299.15" y1="309.10" x2="318.48" y2="271.50" stroke="#7cc29c" stroke-width="1.1" />
<line x1="325.02" y1="267.88" x2="339.50" y2="269.12" stroke="#7cc29c" stroke-width="1.1" />
<line x1="345.73" y1="265.35" x2="365.67" y2="218.15" stroke="#7cc29c" stroke-width="1.1" />
<line x1="368.64" y1="209.67" x2="389.65" y2="134.83" stroke="#7cc29c" stroke-width="1.1" />
<line x1="394.33" y1="133.38" x2="410.85" y2="147.12" stroke="#7cc29c" stroke-width="1.1" />
<line x1="416.83" y1="153.73" x2="435.24" y2="180.97" stroke="#7cc29c" stroke-width="1.1" />
<polygon points="109.54,270.70 110.53,273.34 113.35,273.46 111.14,275.22 111.89,277.94 109.54,276.38 107.19,277.94 107.95,275.22 105.74,273.46 108.56,273.34" fill="#2c9a5c"/>
<polygon points="132.99,281.00 133.97,283.64 136.79,283.76 134.59,285.52 135.34,288.24 132.99,286.68 130.64,288.24 131.39,285.52 129.18,283.76 132.00,283.64" fill="#2c9a5c"/>
<polygon points="156.43,291.40 157.42,294.04 160.24,294.16 158.03,295.92 158.78,298.64 156.43,297.08 154.08,298.64 154.83,295.92 152.63,294.16 155.44,294.04" fill="#2c9a5c"/>
<polygon points="179.88,301.90 180.86,304.54 183.68,304.66 181.47,306.42 182.23,309.14 179.88,307.58 177.52,309.14 178.28,306.42 176.07,304.66 178.89,304.54" fill="#2c9a5c"/>
<polygon points="203.32,298.00 204.31,300.64 207.12,300.76 204.92,302.52 205.67,305.24 203.32,303.68 200.97,305.24 201.72,302.52 199.51,300.76 202.33,300.64" fill="#2c9a5c"/>
<polygon points="226.76,298.20 227.75,300.84 230.57,300.96 228.36,302.72 229.11,305.44 226.76,303.88 224.41,305.44 225.16,302.72 222.96,300.96 225.78,300.84" fill="#2c9a5c"/>
<polygon points="250.21,299.50 251.19,302.14 254.01,302.26 251.80,304.02 252.56,306.74 250.21,305.18 247.86,306.74 248.61,304.02 246.40,302.26 249.22,302.14" fill="#2c9a5c"/>
<polygon points="273.65,308.10 274.64,310.74 277.45,310.86 275.25,312.62 276.00,315.34 273.65,313.78 271.30,315.34 272.05,312.62 269.85,310.86 272.66,310.74" fill="#2c9a5c"/>
<polygon points="297.09,309.50 298.08,312.14 300.90,312.26 298.69,314.02 299.44,316.74 297.09,315.18 294.74,316.74 295.50,314.02 293.29,312.26 296.11,312.14" fill="#2c9a5c"/>
<polygon points="320.54,263.90 321.52,266.54 324.34,266.66 322.14,268.42 322.89,271.14 320.54,269.58 318.19,271.14 318.94,268.42 316.73,266.66 319.55,266.54" fill="#2c9a5c"/>
<polygon points="343.98,265.90 344.97,268.54 347.79,268.66 345.58,270.42 346.33,273.14 343.98,271.58 341.63,273.14 342.38,270.42 340.18,268.66 342.99,268.54" fill="#2c9a5c"/>
<polygon points="367.43,210.40 368.41,213.04 371.23,213.16 369.02,214.92 369.78,217.64 367.43,216.08 365.07,217.64 365.83,214.92 363.62,213.16 366.44,213.04" fill="#2c9a5c"/>
<polygon points="390.87,126.90 391.86,129.54 394.67,129.66 392.47,131.42 393.22,134.14 390.87,132.58 388.52,134.14 389.27,131.42 387.06,129.66 389.88,129.54" fill="#2c9a5c"/>
<polygon points="414.31,146.40 415.30,149.04 418.12,149.16 415.91,150.92 416.66,153.64 414.31,152.08 411.96,153.64 412.71,150.92 410.51,149.16 413.33,149.04" fill="#2c9a5c"/>
<polygon points="437.76,181.10 438.74,183.74 441.56,183.86 439.35,185.62 440.11,188.34 437.76,186.78 435.41,188.34 436.16,185.62 433.95,183.86 436.77,183.74" fill="#2c9a5c"/>
<ellipse cx="390.7" cy="113.8" rx="6.5" ry="25.9" fill="none" stroke="#ecbcbc" stroke-width="0.85"/>
<line x1="346.00" y1="97.80" x2="377.45" y2="94.20" stroke="#ee2b2b" stroke-width="2.0" />
<polygon points="384.40,93.40 377.32,97.48 376.58,91.02" fill="#ee2b2b"/>
<line x1="333.00" y1="113.60" x2="377.32" y2="105.03" stroke="#3a3a3a" stroke-width="2.6" />
<polygon points="383.70,103.80 377.47,108.47 376.18,101.79" fill="#3a3a3a"/>
<line x1="307.50" y1="129.30" x2="376.53" y2="115.75" stroke="#1f6ad6" stroke-width="2.4" />
<polygon points="383.40,114.40 376.71,119.28 375.37,112.41" fill="#1f6ad6"/>
<line x1="401.00" y1="179.60" x2="394.00" y2="147.63" stroke="#2ea060" stroke-width="2.6" />
<polygon points="392.40,140.30 397.53,147.37 390.69,148.86" fill="#2ea060"/>
<line x1="403.00" y1="93.70" x2="400.10" y2="93.70" stroke="#d9535b" stroke-width="0.8" />
<polygon points="397.60,93.70 400.60,92.10 400.60,95.30" fill="#d9535b"/>
<text x="299.20" y="102.50" font-size="12.5" fill="#d9464e" text-anchor="start" >325.3W</text>
<text x="285.20" y="119.30" font-size="12.9" fill="#555555" text-anchor="start" >21.09%</text>
<text x="266.00" y="135.20" font-size="12.8" fill="#2a72c8" text-anchor="start" >94.19%</text>
<text transform="translate(404.00,97.20) scale(1,1.02)" font-size="12.5" fill="#d9535b" text-anchor="start" >Optimized</text>
<text x="391.00" y="193.90" font-size="12.9" fill="#3fa26e" text-anchor="start" >99.1%</text>
</svg></body></html>
